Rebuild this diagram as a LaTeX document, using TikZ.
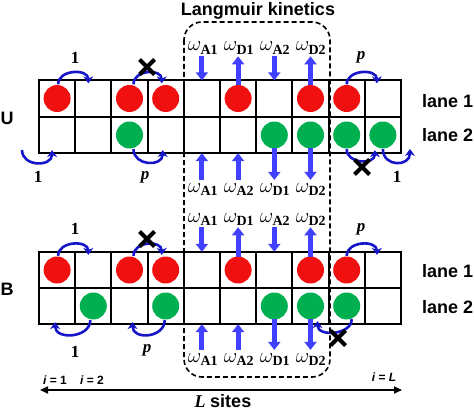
\documentclass[tikz,border=0pt]{standalone}
\usepackage{fontspec}
\setmainfont{Liberation Serif}
\setsansfont{Liberation Sans}
\usetikzlibrary{arrows.meta,shapes.misc}
\definecolor{lred}{RGB}{240,16,16}
\definecolor{lgreen}{RGB}{0,176,80}
\definecolor{lkblue}{RGB}{64,64,255}
\definecolor{hopblue}{RGB}{22,22,200}
\newcommand{\wl}[1]{$\omega_{\textbf{\fontsize{14}{14}\selectfont #1}}$}
\tikzset{
  cell/.style={draw, line width=2pt, minimum width=36.2pt, minimum height=36.3pt, inner sep=0pt, outer sep=0pt},
  redp/.style={circle, fill=lred, minimum size=27pt, inner sep=0pt},
  greenp/.style={circle, fill=lgreen, minimum size=27pt, inner sep=0pt},
  lk/.style={draw=lkblue, line width=5pt, -{Triangle[width=12pt,length=8pt]}},
  hop/.style={draw=hopblue, line width=2.6pt, -{Stealth[width=10pt,length=7pt]}},
  blocked/.style={cross out, draw=black, line width=4pt, minimum size=11pt, inner sep=0pt},
  wlab/.style={font=\fontsize{22}{22}\selectfont, inner sep=0pt, anchor=base},
  ratelab/.style={font=\fontsize{17}{17}\selectfont\bfseries, inner sep=0pt},
  sidelab/.style={font=\fontsize{18}{18}\selectfont\sffamily\bfseries, inner sep=0pt, anchor=base},
  lanelab/.style={font=\fontsize{18}{18}\selectfont\sffamily\bfseries, anchor=base west, inner sep=0pt},
  ilab/.style={font=\fontsize{12}{12}\selectfont\sffamily\bfseries, anchor=base, inner sep=0pt},
  lkbox/.style={draw=black, line width=1.6pt, dash pattern=on 5pt off 3pt, rounded corners=18pt},
  sitesarrow/.style={draw=black, line width=1.6pt, {Triangle[width=7pt,length=8pt]}-{Triangle[width=7pt,length=8pt]}}
}
\begin{document}
\begin{tikzpicture}[x=1pt,y=-1pt]
\useasboundingbox (0,0) rectangle (474,412);
% title and Langmuir box
\node[font=\fontsize{18}{18}\selectfont\sffamily\bfseries, anchor=base, inner sep=0pt] (title) at (258,16) {Langmuir kinetics};
\draw[lkbox] (184,22) rectangle (330,377);
% grids
\foreach \k in {1,...,10}{
  \pgfmathsetmacro\xx{39+36.2*(\k-0.5)}
  \node[cell] (U1-\k) at (\xx,98.5) {};
  \node[cell] (U2-\k) at (\xx,135) {};
  \node[cell] (B1-\k) at (\xx,270) {};
  \node[cell] (B2-\k) at (\xx,306) {};
}
% particles
\foreach \k in {1,3,4,6,8,9}{
  \node[redp] (Ur\k) at (U1-\k) {};
  \node[redp] (Br\k) at (B1-\k) {};
}
\foreach \k in {3,7,8,9,10} \node[greenp] (Ug\k) at (U2-\k) {};
\foreach \k in {2,4,7,8,9} \node[greenp] (Bg\k) at (B2-\k) {};
% side labels
\node[sidelab] (Ulab) at (7,124) {U};
\node[sidelab] (Blab) at (7,295) {B};
\node[lanelab] (Ul1) at (422,107) {lane 1};
\node[lanelab] (Ul2) at (422,141) {lane 2};
\node[lanelab] (Bl1) at (422,277) {lane 1};
\node[lanelab] (Bl2) at (422,313) {lane 2};
% Langmuir kinetics, U
\node[wlab] (UtA1) at (203,51) {\wl{A1}};
\node[wlab] (UtD1) at (239,51) {\wl{D1}};
\node[wlab] (UtA2) at (275,51) {\wl{A2}};
\node[wlab] (UtD2) at (311,51) {\wl{D2}};
\draw[lk] ([yshift=-2pt]UtA1.south -| U1-5.north) -- (U1-5.north);
\draw[lk] ([yshift=-5pt]U1-6.north) -- ([yshift=-2pt]UtD1.south -| U1-6.north);
\draw[lk] ([yshift=-2pt]UtA2.south -| U1-7.north) -- (U1-7.north);
\draw[lk] ([yshift=-5pt]U1-8.north) -- ([yshift=-2pt]UtD2.south -| U1-8.north);
\node[wlab] (UbA1) at (203,192) {\wl{A1}};
\node[wlab] (UbA2) at (239,192) {\wl{A2}};
\node[wlab] (UbD1) at (275,192) {\wl{D1}};
\node[wlab] (UbD2) at (311,192) {\wl{D2}};
\draw[lk] ([yshift=3pt]UbA1.north -| U2-5.south) -- (U2-5.south);
\draw[lk] ([yshift=3pt]UbA2.north -| U2-6.south) -- (U2-6.south);
\draw[lk] ([yshift=5pt]U2-7.south) -- ([yshift=3pt]UbD1.north -| U2-7.south);
\draw[lk] ([yshift=5pt]U2-8.south) -- ([yshift=3pt]UbD2.north -| U2-8.south);
% Langmuir kinetics, B
\node[wlab] (BtA1) at (203,222) {\wl{A1}};
\node[wlab] (BtD1) at (239,222) {\wl{D1}};
\node[wlab] (BtA2) at (275,222) {\wl{A2}};
\node[wlab] (BtD2) at (311,222) {\wl{D2}};
\draw[lk] ([yshift=-2pt]BtA1.south -| B1-5.north) -- (B1-5.north);
\draw[lk] ([yshift=-5pt]B1-6.north) -- ([yshift=-2pt]BtD1.south -| B1-6.north);
\draw[lk] ([yshift=-2pt]BtA2.south -| B1-7.north) -- (B1-7.north);
\draw[lk] ([yshift=-5pt]B1-8.north) -- ([yshift=-2pt]BtD2.south -| B1-8.north);
\node[wlab] (BbA1) at (203,362) {\wl{A1}};
\node[wlab] (BbA2) at (239,362) {\wl{A2}};
\node[wlab] (BbD1) at (275,362) {\wl{D1}};
\node[wlab] (BbD2) at (311,362) {\wl{D2}};
\draw[lk] ([yshift=3pt]BbA1.north -| B2-5.south) -- (B2-5.south);
\draw[lk] ([yshift=3pt]BbA2.north -| B2-6.south) -- (B2-6.south);
\draw[lk] ([yshift=5pt]B2-7.south) -- ([yshift=3pt]BbD1.north -| B2-7.south);
\draw[lk] ([yshift=5pt]B2-8.south) -- ([yshift=3pt]BbD2.north -| B2-8.south);
% hops, U lane 1
\draw[hop] ([xshift=1pt,yshift=-4pt]U1-1.north) .. controls +(0,-15) and +(0,-15) .. ([xshift=-5pt,yshift=-3pt]U1-2.north);
\node[ratelab] (Ut1) at (75,58) {1};
\draw[hop] ([xshift=4pt,yshift=-4pt]U1-3.north) .. controls +(0,-15) and +(0,-15) .. ([xshift=-4pt,yshift=-3pt]U1-4.north);
\node[blocked] (UtX) at (147,67) {};
\draw[hop] ([yshift=-4pt]U1-9.north) .. controls +(0,-15) and +(0,-15) .. ([xshift=-6pt,yshift=-3pt]U1-10.north);
\node[ratelab] (Utp) at (361,57) {\itshape p};
% hops, U lane 2
\coordinate (Uin) at (22,150);
\draw[hop] (Uin) .. controls +(0,17) and +(0,17) .. ([xshift=-5pt,yshift=3pt]U2-1.south);
\node[ratelab] (Ub1) at (38,177) {1};
\draw[hop] ([xshift=4pt,yshift=4pt]U2-3.south) .. controls +(0,17) and +(0,17) .. ([xshift=-3pt,yshift=3pt]U2-4.south);
\node[ratelab] (Ubp) at (145,177) {\itshape p};
\draw[hop] ([yshift=4pt]U2-9.south) .. controls +(0,15) and +(0,15) .. ([xshift=-8pt,yshift=3pt]U2-10.south);
\node[blocked] (UbX) at (362,167) {};
\coordinate (Uout) at (410,149);
\draw[hop] ([yshift=4pt]U2-10.south) .. controls +(0,18) and +(0,18) .. (Uout);
\node[ratelab] (Ub1r) at (397,177) {1};
% hops, B lane 1
\draw[hop] ([xshift=1pt,yshift=-4pt]B1-1.north) .. controls +(0,-15) and +(0,-15) .. ([xshift=-5pt,yshift=-3pt]B1-2.north);
\node[ratelab] (Bt1) at (75,229) {1};
\draw[hop] ([xshift=4pt,yshift=-4pt]B1-3.north) .. controls +(0,-15) and +(0,-15) .. ([xshift=-4pt,yshift=-3pt]B1-4.north);
\node[blocked] (BtX) at (147,239) {};
\draw[hop] ([yshift=-4pt]B1-9.north) .. controls +(0,-15) and +(0,-15) .. ([xshift=-6pt,yshift=-3pt]B1-10.north);
\node[ratelab] (Btp) at (361,229) {\itshape p};
% hops, B lane 2
\draw[hop] ([xshift=-3pt,yshift=4pt]B2-2.south) .. controls +(0,18) and +(0,18) .. ([xshift=-2pt,yshift=2pt]B2-1.south);
\node[ratelab] (Bb1) at (75,352) {1};
\draw[hop] ([xshift=-1pt,yshift=4pt]B2-4.south) .. controls +(0,18) and +(0,18) .. ([xshift=3pt,yshift=2pt]B2-3.south);
\node[ratelab] (Bbp) at (147,350) {\itshape p};
\draw[hop] ([xshift=5pt,yshift=5pt]B2-9.south) .. controls +(0,16) and +(0,16) .. ([xshift=7pt,yshift=3pt]B2-8.south);
\node[blocked] (BbX) at (338,338) {};
% site axis
\node[ilab] (i1) at (55,384) {\itshape i\upshape{} = 1};
\node[ilab] (i2) at (92,384) {\itshape i\upshape{} = 2};
\node[ilab] (iL) at (384,381) {\itshape i\upshape{} = \itshape L};
\coordinate (Lleft) at (40,390);
\coordinate (Lright) at (402,390);
\draw[sitesarrow] (Lleft) -- (Lright);
\node[font=\fontsize{18}{18}\selectfont\bfseries, anchor=base, inner sep=0pt] (sites) at (223,407) {\itshape L\upshape{} \sffamily sites};
\end{tikzpicture}
\end{document}
